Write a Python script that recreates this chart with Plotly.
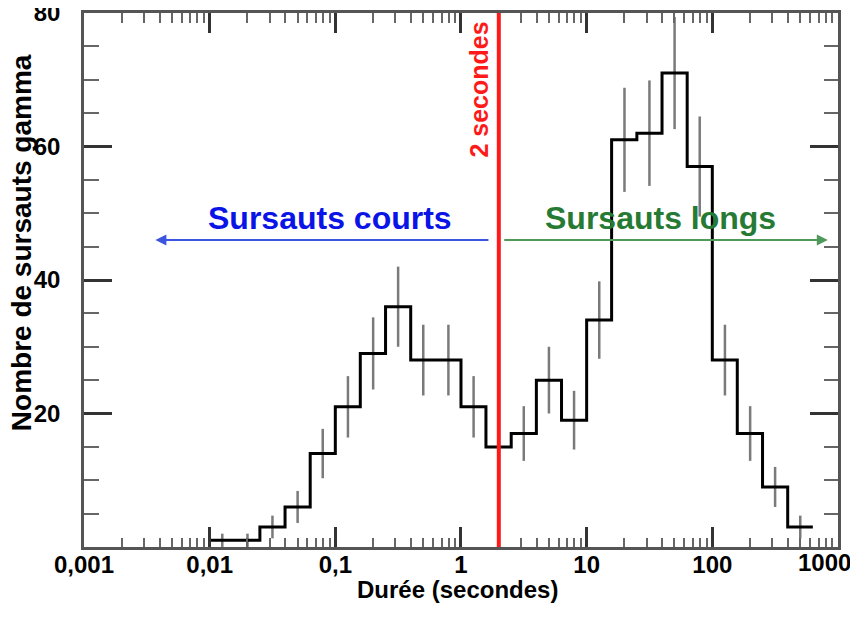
import math
import plotly.graph_objects as go

# ---- data ----
bin_edges = [0.01, 0.0158, 0.0251, 0.0398, 0.0631, 0.1, 0.158, 0.251, 0.398, 0.631,
             1.0, 1.58, 2.51, 3.98, 6.31, 10.0, 15.8, 25.1, 39.8, 63.1,
             100.0, 158.0, 251.0, 398.0, 631.0]
bin_centers = [0.0126, 0.02, 0.0316, 0.0501, 0.0794, 0.126, 0.2, 0.316, 0.501, 0.794,
               1.26, 2.0, 3.16, 5.01, 7.94, 12.6, 20.0, 31.6, 50.1, 79.4,
               126.0, 200.0, 316.0, 501.0]
counts = [1, 1, 3, 6, 14, 21, 29, 36, 28, 28,
          21, 15, 17, 25, 19, 34, 61, 62, 71, 57,
          28, 17, 9, 3]
errors = [1.0, 1.0, 1.7, 2.4, 3.7, 4.6, 5.4, 6.0, 5.3, 5.3,
          4.6, 3.9, 4.1, 5.0, 4.4, 5.8, 7.8, 7.9, 8.4, 7.5,
          5.3, 4.1, 3.0, 1.7]

x_tickvals = [0.001, 0.01, 0.1, 1, 10, 100, 1000]
x_ticktext = ["0,001", "0,01", "0,1", "1", "10", "100", ""]
last_x_label = "1000"          # drawn flush with the right edge, as in the reference
y_tickvals = [20, 40, 60, 80]
y_ticktext = ["20", "40", "60", "80"]

split_s = 2.0           # separation court / long
arrow_y = 46            # hauteur des flèches
short_tip, short_tail = 0.0037, 1.7
long_tail, long_tip = 2.15, 830.0

FONT = "Liberation Sans, Arial, sans-serif"
X_RANGE = [-3, 3.0002]
Y_RANGE = [0, 80]

fig = go.Figure()

# error bars
fig.add_trace(go.Scatter(
    x=bin_centers, y=counts, mode="markers",
    marker=dict(size=1, color="rgba(0,0,0,0)"),
    error_y=dict(type="data", array=errors, visible=True,
                 color="#7a7a7a", thickness=2.5, width=0),
    hoverinfo="skip", showlegend=False))

# step histogram
fig.add_trace(go.Scatter(
    x=bin_edges, y=counts + [counts[-1]], mode="lines",
    line=dict(shape="hv", color="black", width=3),
    showlegend=False))

# invisible trace to hold the mirrored (top / right) axes
fig.add_trace(go.Scatter(
    x=bin_centers, y=counts, xaxis="x2", yaxis="y2", mode="markers",
    marker=dict(size=1, color="rgba(0,0,0,0)"), hoverinfo="skip", showlegend=False))

# red 2 s line
fig.add_shape(type="line", xref="x", yref="paper", x0=split_s, x1=split_s, y0=0, y1=1,
              line=dict(color="#ff1a1a", width=4), layer="above")

ann = []
ann.append(dict(x=math.log10(split_s), y=68.5, xref="x", yref="y",
                text="2 secondes", textangle=-90, showarrow=False,
                xanchor="right", xshift=-4,
                font=dict(family=FONT, size=25, color="#ff1a1a", weight="bold")))
# arrows
ann.append(dict(x=math.log10(short_tip), y=arrow_y, ax=math.log10(short_tail), ay=arrow_y,
                xref="x", yref="y", axref="x", ayref="y", text="", showarrow=True,
                arrowhead=2, arrowsize=1.1, arrowwidth=2, arrowcolor="#3a55e0"))
ann.append(dict(x=math.log10(long_tip), y=arrow_y, ax=math.log10(long_tail), ay=arrow_y,
                xref="x", yref="y", axref="x", ayref="y", text="", showarrow=True,
                arrowhead=2, arrowsize=1.1, arrowwidth=2, arrowcolor="#4f9a5a"))
ann.append(dict(x=math.log10(0.0914), y=49.3, xref="x", yref="y",
                text="Sursauts courts", showarrow=False,
                font=dict(family=FONT, size=32, color="#0a14e6", weight="bold")))
ann.append(dict(x=math.log10(38.9), y=49.3, xref="x", yref="y",
                text="Sursauts longs", showarrow=False,
                font=dict(family=FONT, size=32, color="#267a34", weight="bold")))
# last x tick label (kept inside the page)
ann.append(dict(x=math.log10(x_tickvals[-1]), y=0, xref="x", yref="paper",
                xanchor="right", yanchor="middle", xshift=15, yshift=-15,
                text=last_x_label, showarrow=False,
                font=dict(family=FONT, size=24, color="black", weight="bold")))
# axis titles
ann.append(dict(x=-0.0835, y=0.569, xref="paper", yref="paper",
                xanchor="center", yanchor="middle",
                text="Nombre de sursauts gamma", textangle=-90, showarrow=False,
                font=dict(family=FONT, size=28, color="black", weight="bold")))
ann.append(dict(x=0.495, y=-0.079, xref="paper", yref="paper",
                xanchor="center", yanchor="middle",
                text="Durée (secondes)", showarrow=False,
                font=dict(family=FONT, size=24, color="black", weight="bold")))

tick_common = dict(ticks="inside", tickwidth=2.5, tickcolor="#333",
                   showline=True, linewidth=2.5, linecolor="#555",
                   showgrid=False, zeroline=False, automargin=False,
                   ticklabeloverflow="allow")

fig.update_layout(
    width=850, height=610,
    margin=dict(l=76, r=20, t=5, b=71),
    paper_bgcolor="white", plot_bgcolor="white",
    annotations=ann,
    showlegend=False,
    xaxis=dict(
        type="log", range=X_RANGE,
        tickmode="array", tickvals=x_tickvals, ticktext=x_ticktext, ticklen=20,
        minor=dict(ticks="inside", ticklen=9, tickwidth=2, tickcolor="#666", dtick="D1"),
        tickfont=dict(family=FONT, size=24, color="black", weight="bold"),
        ticklabelstandoff=-6,
        **tick_common),
    xaxis2=dict(
        type="log", range=X_RANGE, overlaying="x", side="top",
        tickmode="array", tickvals=x_tickvals, ticklen=20, showticklabels=False,
        minor=dict(ticks="inside", ticklen=10, tickwidth=2, tickcolor="#666", dtick="D1"),
        **tick_common),
    yaxis=dict(
        range=Y_RANGE,
        tickmode="array", tickvals=y_tickvals, ticktext=y_ticktext, ticklen=28,
        minor=dict(ticks="inside", ticklen=15, tickwidth=2, tickcolor="#666", dtick=5),
        tickfont=dict(family=FONT, size=24, color="black", weight="bold"),
        ticklabelstandoff=16,
        **tick_common),
    yaxis2=dict(
        range=Y_RANGE, overlaying="y", side="right",
        tickmode="array", tickvals=y_tickvals, ticklen=28, showticklabels=False,
        minor=dict(ticks="inside", ticklen=14, tickwidth=2, tickcolor="#666", dtick=5),
        **tick_common),
)

fig.write_html("out.html")
